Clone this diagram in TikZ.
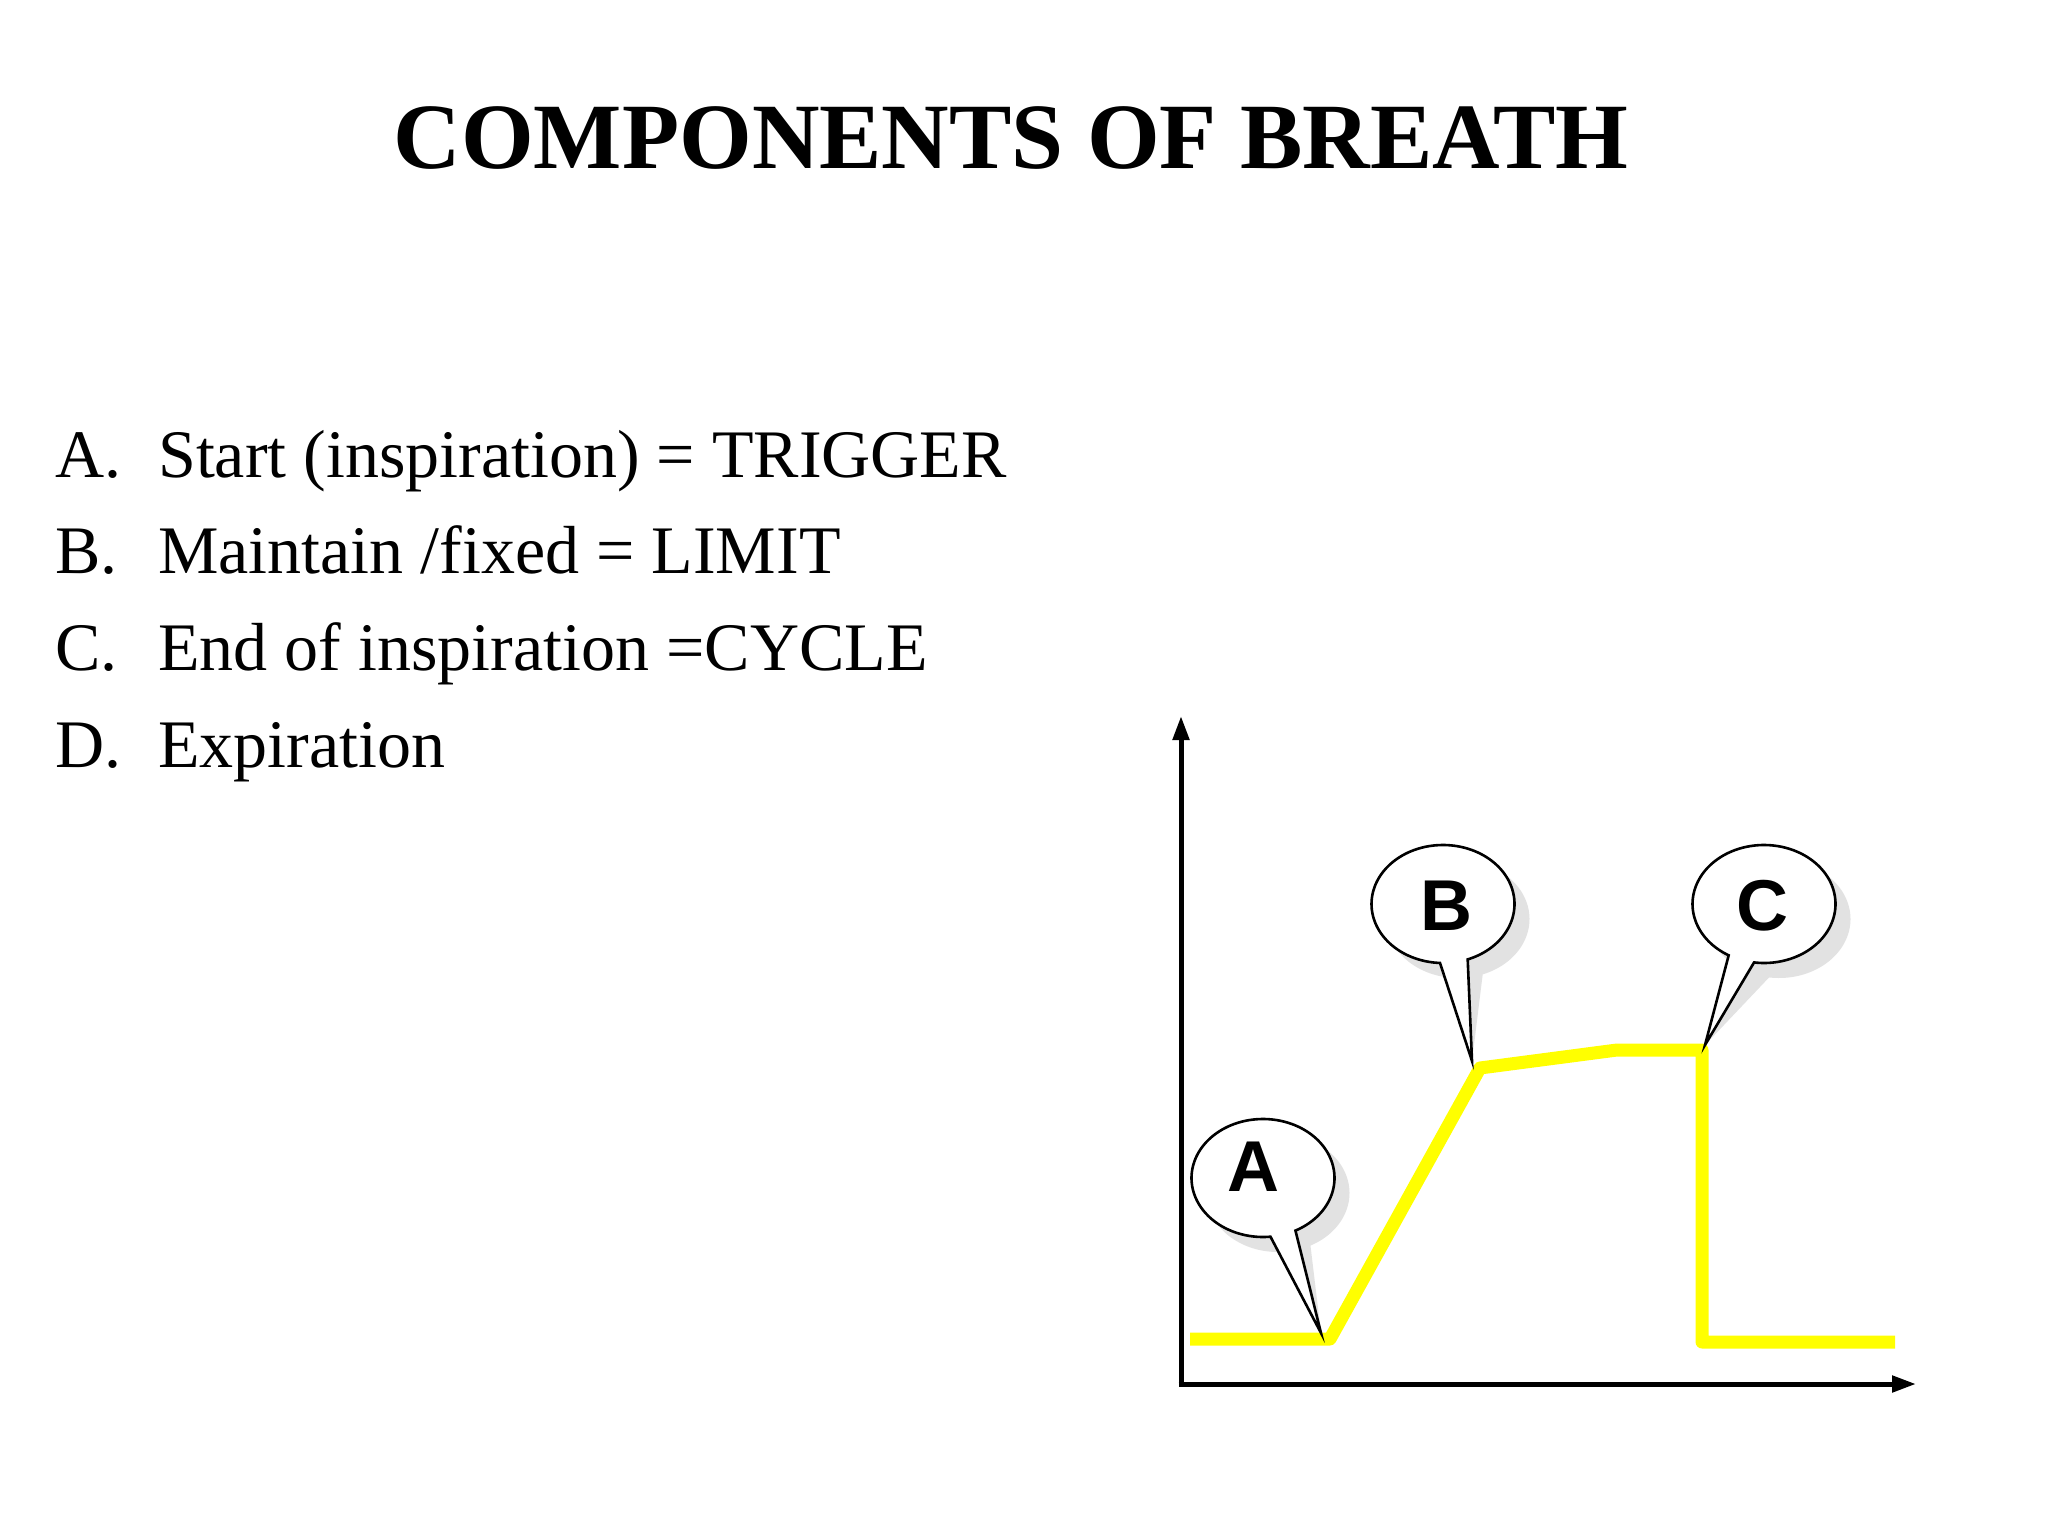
\documentclass[tikz,border=0pt]{standalone}
\usepackage{fontspec}
\setmainfont{Liberation Serif}
\newfontfamily\arialfont{Liberation Sans}
\usetikzlibrary{arrows.meta}
\definecolor{plotyellow}{RGB}{255,255,0}
\definecolor{shadowgray}{RGB}{226,226,226}
\tikzset{
  listtext/.style={anchor=base west, inner sep=0pt, font=\fontsize{68}{80}\selectfont},
  bubbleletter/.style={inner sep=0pt, font=\arialfont\bfseries\fontsize{72}{74}\selectfont},
  axisline/.style={line width=5pt, -{Triangle[length=24pt,width=16pt]}},
  curve/.style={line width=13pt, plotyellow, line join=round},
  bubbleline/.style={line width=2.6pt, fill=white, line join=miter},
}
% #1 cx, #2 cy, #3 start angle, #4 end angle, #5 tip coordinate name
\newcommand\mybubble[5]{%
  \fill[shadowgray, shift={(15,15)}] plot[domain=#3:#4, samples=140, variable=\t] ({#1+71.5*cos(\t)},{#2+59*sin(\t)}) -- (#5) -- cycle;
  \draw[bubbleline] plot[domain=#3:#4, samples=140, variable=\t] ({#1+71.5*cos(\t)},{#2+59*sin(\t)}) -- (#5) -- cycle;
}
\begin{document}
\begin{tikzpicture}[x=1pt,y=-1pt]
\useasboundingbox (0,0) rectangle (2048,1536);
\fill[white] (0,0) rectangle (2048,1536);

% title
\node[anchor=base, inner sep=0pt, font=\bfseries\fontsize{93.5}{100}\selectfont] (title) at (1011,168) {COMPONENTS OF BREATH};

% list
\node[listtext] (la) at (55,477) {A.};
\node[listtext] (ta) at (158,477) {Start (inspiration) = TRIGGER};
\node[listtext] (lb) at (55,573) {B.};
\node[listtext] (tb) at (158,573) {Maintain /fixed = LIMIT};
\node[listtext] (lc) at (55,670) {C.};
\node[listtext] (tc) at (158,670) {End of inspiration =CYCLE};
\node[listtext] (ld) at (55,767) {D.};
\node[listtext] (td) at (158,767) {Expiration};

% axes
\coordinate (origin) at (1181,1384);
\coordinate (ytip) at (1181,716);
\coordinate (xtip) at (1916,1384);
\draw[axisline] ([yshift=-2.5pt]origin) -- (ytip);
\draw[axisline] ([xshift=-2.5pt]origin) -- (xtip);

% yellow waveform
\coordinate (p0) at (1190,1339);
\coordinate (p1) at (1330,1339);
\coordinate (p2) at (1480,1068);
\coordinate (p3) at (1617,1050);
\coordinate (p4) at (1702,1050);
\coordinate (p5) at (1702,1342);
\coordinate (p6) at (1895,1342);
\draw[curve] (p0) -- (p1) -- (p2) -- (p3) -- (p4) -- (p5) -- (p6);

% callout tips
\coordinate (tipA) at (1321,1333);
\coordinate (tipB) at (1472,1061);
\coordinate (tipC) at (1705,1045);

% callouts
\mybubble{1263}{1178}{84}{423}{tipA}
\mybubble{1443}{904}{92.4}{429.8}{tipB}
\mybubble{1764}{904}{119.6}{458}{tipC}

\node[bubbleletter] (A) at (1253,1167) {A};
\node[bubbleletter] (B) at (1446,906) {B};
\node[bubbleletter] (C) at (1762,906) {C};
\end{tikzpicture}
\end{document}
